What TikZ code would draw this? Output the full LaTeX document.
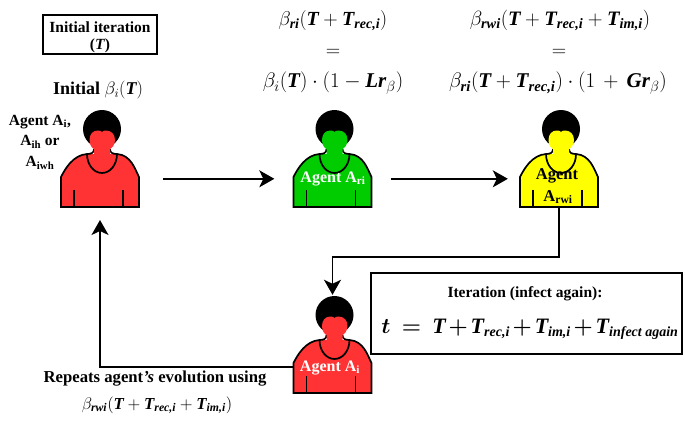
\RequirePackage{fix-cm}
\documentclass[tikz,border=0pt]{standalone}
\usepackage{amsmath}
\usepackage{fontspec}
\setmainfont{Liberation Serif}
\usetikzlibrary{arrows.meta,calc}
\newcommand\bi[1]{\text{\bfseries\itshape #1}}
\newcommand\sbi[1]{\text{\fs{14}\bfseries\itshape #1}}
\newcommand\fs[1]{\fontsize{#1}{#1}\selectfont}
\newcommand\pl{\mkern2mu{+}\mkern2mu}
\tikzset{
  arr/.style={line width=1.6pt,-{Stealth[length=15pt,width=17pt,inset=4pt]}},
  frame/.style={draw=black,line width=1.7pt,fill=white},
  txt/.style={inner sep=0pt,font=\bfseries\fs{15.5}},
  eqn/.style={inner sep=0pt,font=\fs{20}},
  bodynode/.style={minimum width=78pt,minimum height=56pt,inner sep=0pt,anchor=south},
}
\definecolor{agentred}{RGB}{255,51,51}
\definecolor{agentgreen}{RGB}{0,204,0}
\definecolor{agentyellow}{RGB}{255,255,0}
\newcommand\agent[4]{%
\begin{scope}[shift={(#2,#3)}]
  \node[circle,fill=black,minimum size=38pt,inner sep=0pt] (#1h) at (2,-78) {};
  \fill[#4] (-39,0) -- (-39,-30) .. controls (-35,-38) and (-27,-52) .. (-13,-53)
     -- (17,-53) .. controls (31,-52) and (35,-38) .. (39,-30) -- (39,0) -- cycle;
  \draw[line width=1.7pt] (-6,-58) .. controls (-6,-54) and (-9,-53) .. (-13,-53)
     .. controls (-27,-52) and (-35,-38) .. (-39,-30) -- (-39,0) -- (39,0) -- (39,-30)
     .. controls (35,-38) and (31,-52) .. (17,-53) .. controls (13,-53) and (10,-54) .. (10,-58);
  \fill[#4] (-6,-50) -- (-6,-58) .. controls (-8,-59) and (-10.5,-62) .. (-10.5,-67)
     .. controls (-10.5,-73) and (-7,-76.5) .. (-2,-76.5) .. controls (0,-76.5) and (1,-76) .. (2,-75)
     .. controls (3,-76) and (4,-76.5) .. (6,-76.5) .. controls (11,-76.5) and (15,-73) .. (15,-67)
     .. controls (15,-62) and (12,-59) .. (10,-58) -- (10,-50) -- cycle;
  \draw[line width=1.7pt] (-13,-53) .. controls (-13,-42) and (-6,-34) .. (2,-34)
     .. controls (10,-34) and (17,-42) .. (17,-53);
  \draw[line width=1.7pt] (-26,-17) -- (-26,0) (23,-17) -- (23,0);
  \node[bodynode] (#1) at (0,0) {};
\end{scope}}
\begin{document}
\begin{tikzpicture}[x=1pt,y=-1pt]
\useasboundingbox (0,0) rectangle (685,421);
\fill[white] (0,0) rectangle (685,421);
\agent{aone}{100}{207}{agentred}
\agent{atwo}{332.5}{207}{agentgreen}
\agent{athree}{559}{207}{agentyellow}
\agent{afour}{332.5}{393}{agentred}
% boxes
\node[frame,minimum width=114pt,minimum height=39pt,inner sep=0pt] (initbox) at (100,34.5) {};
\node[txt] (initt) at (100,27) {Initial iteration};
\node[txt] (initT) at (100,46) {(\textit{T})};
\node[frame,minimum width=311pt,minimum height=81pt,inner sep=0pt] (iterbox) at (526.5,313.5) {};
\node[txt] (itert) at (525,294) {Iteration (infect again):};
\node[inner sep=0pt,font=\bfseries\fs{22}] (itereq) at (530,329) {$\boldmath t\;\,{=}\;\,\bi{T}\pl\bi{T}_{\sbi{rec,i}}\pl\bi{T}_{\sbi{im,i}}\pl\bi{T}_{\sbi{infect again}}$};
% labels
\node[inner sep=0pt,font=\bfseries\fs{18}] (initbeta) at (98,90) {Initial $\beta_i(\bi{T})$};
\node[txt] (lone) at (40,122) {Agent A\textsubscript{i},};
\node[txt] (ltwo) at (40,142) {A\textsubscript{ih} or};
\node[txt] (lthree) at (40,163) {A\textsubscript{iwh}};
\node[eqn] (ea) at (333,21) {$\beta_{\bi{ri}}(\bi{T}+\bi{T}_{\bi{rec,i}})$};
\node[eqn] (eb) at (333,53) {$=$};
\node[eqn,font=\fs{21}] (ec) at (333,83) {$\beta_i(\bi{T})\cdot(1-\bi{Lr}_\beta)$};
\node[eqn,font=\fs{20.5}] (fa) at (560,20) {$\beta_{\bi{rwi}}(\bi{T}+\bi{T}_{\bi{rec,i}}+\bi{T}_{\bi{im,i}})$};
\node[eqn] (fb) at (559,53) {$=$};
\node[eqn,font=\fs{21}] (fc) at (558,83) {$\beta_{\bi{ri}}(\bi{T}+\bi{T}_{\bi{rec,i}})\cdot(1\,+\,\bi{Gr}_\beta)$};
\node[txt,text=white,font=\bfseries\fs{16}] (la) at (333,179) {Agent A\textsubscript{ri}};
\node[txt,font=\bfseries\fs{16.5}] (lb) at (557,176) {Agent};
\node[txt,font=\bfseries\fs{16.5}] (lc) at (558,197) {A\textsubscript{rwi}};
\node[txt,text=white,font=\bfseries\fs{16}] (ld) at (330,368) {Agent A\textsubscript{i}};
\node[txt,font=\bfseries\fs{16.7}] (rep) at (155,379) {Repeats agent\textit{'s} evolution using};
\node[inner sep=0pt,font=\fs{16.8}] (repeq) at (157,405) {$\beta_{\bi{rwi}}(\bi{T}+\bi{T}_{\bi{rec,i}}+\bi{T}_{\bi{im,i}})$};
% connectors
\draw[arr,shorten <=24pt,shorten >=19pt] (aone.east) -- (atwo.west);
\draw[arr,shorten <=19pt,shorten >=12pt] (atwo.east) -- (athree.west);
\draw[arr] (athree.south) -- ++(0,50) -| ([yshift=1pt]afourh.north -| afour.south);
\draw[arr,shorten >=13pt] ([yshift=-2pt]afour.west) -| (aone.south);
\end{tikzpicture}
\end{document}
